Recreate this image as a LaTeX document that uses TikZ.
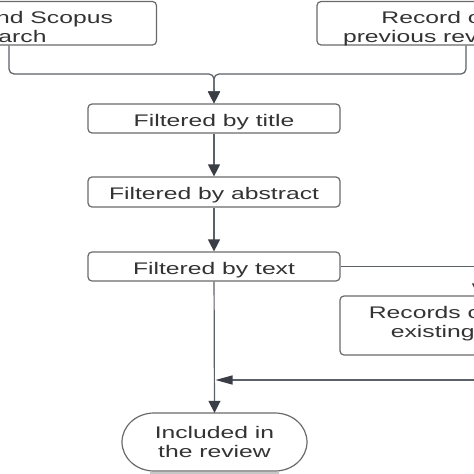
\documentclass[tikz,border=0pt]{standalone}
\usepackage{fontspec}
\setmainfont{Liberation Sans}[FakeStretch=1.47]
\usetikzlibrary{arrows.meta,calc}
\definecolor{boxcol}{HTML}{6A6A6A}
\definecolor{linecol}{HTML}{5C6068}
\definecolor{tipcol}{HTML}{3A3D45}
\definecolor{txtcol}{HTML}{333333}
\newcommand\diagfont{\fontsize{16.8}{19}\selectfont}
\newcommand\twoline[2]{\begin{tabular}[t]{@{}c@{}}#1\\#2\end{tabular}}
\begin{document}
\begin{tikzpicture}[x=1pt,y=-1pt,
  fbox/.style={draw=boxcol, line width=1.2pt, rounded corners=4pt, inner sep=0pt,
    text=txtcol, font=\diagfont, text height=15pt, text depth=0pt},
  txt/.style={inner sep=0pt, text=txtcol, font=\diagfont, anchor=base},
  conn/.style={draw=linecol, line width=1.2pt},
  vtip/.style={conn, -{Triangle[length=12pt,width=12pt,fill=tipcol,color=tipcol]}},
  htip/.style={conn, -{Triangle[length=17pt,width=9pt,fill=tipcol,color=tipcol]}}]
\useasboundingbox (0,0) rectangle (474,474);
\fill[white] (0,0) rectangle (474,474);
\clip (0,0) rectangle (474,474);

% top boxes
\node[fbox, minimum width=397pt, minimum height=43.5pt] (tl) at (-42,23.25) {};
\node[txt] (tlt) at (-42,23) {\twoline{Web of Science and Scopus}{literature search}};
\node[fbox, minimum width=236pt, minimum height=43.5pt] (tr) at (435,23.25) {};
\node[txt] (trt) at (435,23) {\twoline{Record of}{previous reviews}};

% main column
\node[fbox, minimum width=252pt, minimum height=29pt] (title) at (214,118.5) {Filtered by title};
\node[fbox, minimum width=252pt, minimum height=30pt] (abs) at (214,192) {Filtered by abstract};
\node[fbox, minimum width=252pt, minimum height=29pt] (ftext) at (214,266.5) {Filtered by text};

% records box
\node[fbox, minimum width=276pt, minimum height=59pt] (rec) at (478,325.5) {};
\node[txt] (rect) at (478,318) {\twoline{Records cited in the}{existing reviews}};

% included (stadium)
\node[inner sep=0pt, minimum width=185pt, minimum height=58pt] (inc) at (214.5,442) {};
\draw[draw=boxcol, line width=1.2pt]
  (154,413) -- (275,413)
  .. controls (292.7,413) and (307,426) .. (307,442)
  .. controls (307,458) and (292.7,471) .. (275,471)
  -- (154,471)
  .. controls (136.3,471) and (122,458) .. (122,442)
  .. controls (122,426) and (136.3,413) .. (154,413) -- cycle;
\fill[gray!45] (150,472.3) rectangle (279,474);
\node[txt] (inct) at (214.5,438.5) {\twoline{Included in}{the review}};

% connectors
\coordinate (m) at (214,74);
\draw[vtip, rounded corners=5pt] ($(tl.south)+(51,0)$) |- (m) -- (title.north);
\draw[vtip, rounded corners=5pt] ($(tr.south)+(31,0)$) |- (m) -- (title.north);
\draw[vtip] (title) -- (abs);
\draw[vtip] (abs) -- (ftext);
\draw[vtip] (ftext) -- (inc.north);
\draw[vtip] (ftext.east) -- (ftext.east -| rec.north) -- (rec.north);
\coordinate (back) at (215.5,380);
\draw[htip] (rec.south) |- (back);
\end{tikzpicture}
\end{document}
